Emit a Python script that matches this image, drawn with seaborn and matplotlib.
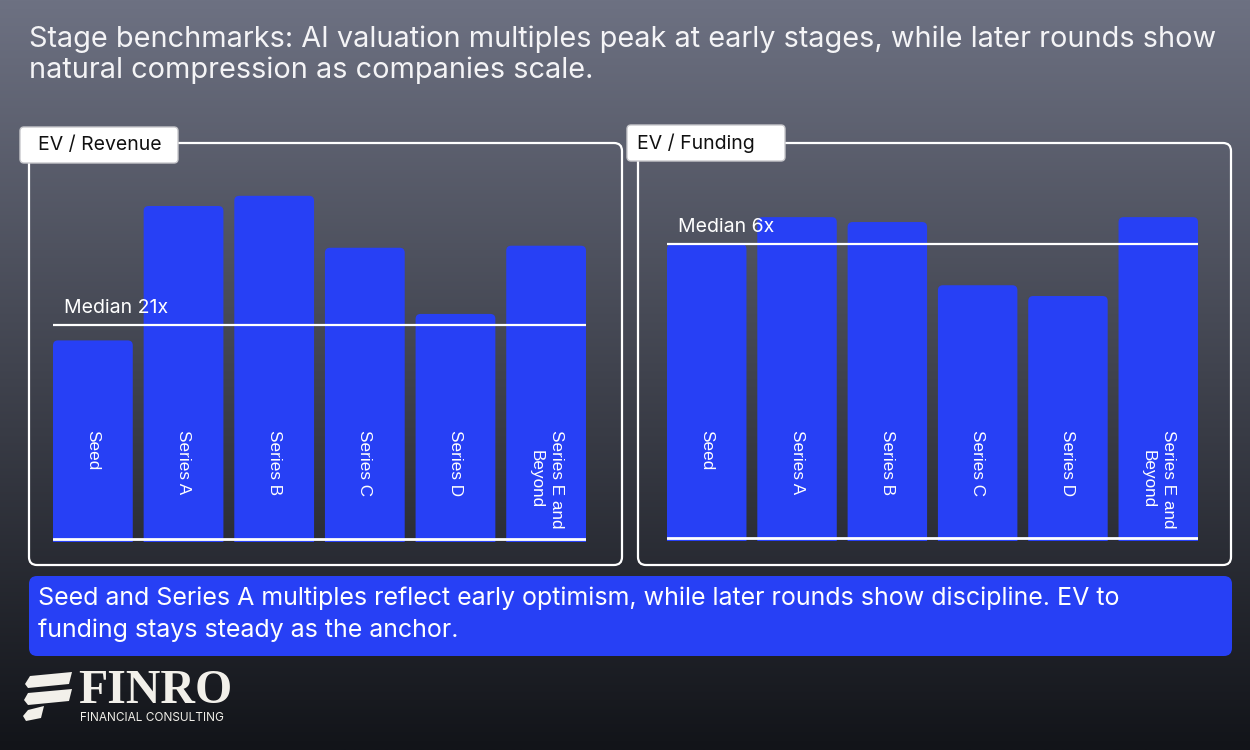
import numpy as np
import pandas as pd
import matplotlib
matplotlib.use("Agg")
import matplotlib.pyplot as plt
import seaborn as sns
from matplotlib.patches import FancyBboxPatch, Polygon
from matplotlib.transforms import blended_transform_factory

# ---------------- data ----------------
stages = ["Seed", "Series A", "Series B", "Series C", "Series D", "Series E and\nBeyond"]
ev_revenue = [19.5, 32.7, 33.7, 28.6, 22.1, 28.8]
ev_funding = [6.0, 6.55, 6.45, 5.16, 4.94, 6.55]
median_revenue = 21
median_funding = 6
panel_titles = ["EV / Revenue", "EV / Funding"]
title_text = ("Stage benchmarks: AI valuation multiples peak at early stages, while later rounds show\n"
              "natural compression as companies scale.")
note_text = ("Seed and Series A multiples reflect early optimism, while later rounds show discipline. EV to\n"
             "funding stays steady as the anchor.")

BLUE = "#2740F5"
W, H = 1250, 750

sns.set_theme(style="white")
plt.rcParams["font.family"] = ["Inter", "DejaVu Sans"]

fig = plt.figure(figsize=(12.5, 7.5), dpi=100)

# ---------------- background axes in pixel coordinates ----------------
bg = fig.add_axes([0, 0, 1, 1], zorder=0)
bg.set_xlim(0, W)
bg.set_ylim(H, 0)
bg.axis("off")
top_c = np.array([0x6d, 0x71, 0x82]) / 255
bot_c = np.array([0x12, 0x14, 0x19]) / 255
t = np.linspace(0, 1, 256)[:, None]
grad = top_c[None, :] * (1 - t) + bot_c[None, :] * t
grad = np.repeat(grad[:, None, :], 2, axis=1)
bg.imshow(grad, extent=[0, W, H, 0], aspect="auto", zorder=0)

bg.text(29, 55, title_text, color="#f4f4f6", fontsize=20.8, va="center", ha="left",
        linespacing=1.18, zorder=3)

# panel frames
for (x0, x1) in [(29, 622), (638, 1231)]:
    bg.add_patch(FancyBboxPatch((x0, 143), x1 - x0, 565 - 143,
                                boxstyle="round,pad=0,rounding_size=8",
                                fc="none", ec="white", lw=1.6, zorder=2))
# panel label tabs
for (x0, y0, tx, lab) in [(20, 127, 38, panel_titles[0]), (627, 125, 637, panel_titles[1])]:
    bg.add_patch(FancyBboxPatch((x0, y0), 158, 36,
                                boxstyle="round,pad=0,rounding_size=4",
                                fc="white", ec="#c8c8cc", lw=1, zorder=4))
    bg.text(tx, y0 + 18, lab, color="#111111", fontsize=14, va="center",
            ha="left", zorder=5)

# note box
bg.add_patch(FancyBboxPatch((29, 576), 1203, 80,
                            boxstyle="round,pad=0,rounding_size=8",
                            fc=BLUE, ec="none", zorder=2))
bg.text(38, 614, note_text, color="white", fontsize=18, va="center", ha="left",
        linespacing=1.44, zorder=3)

# logo
logo_c = "#f2f0ea"
stripes = [
    [(30, 676), (72, 672), (69, 684), (28, 688), (25, 684)],
    [(28, 693), (72, 689), (69, 701), (28, 705), (24, 700)],
    [(28, 710), (44, 706), (41, 718), (26, 721), (23, 716)],
]
for pts in stripes:
    bg.add_patch(Polygon(pts, closed=True, fc=logo_c, ec="none", zorder=3))
bg.text(78, 703, "FINRO", color=logo_c, fontsize=34.5, weight="bold",
        family=["Liberation Serif", "DejaVu Serif"],
        va="baseline", ha="left", zorder=3)
bg.text(80, 718, "FINANCIAL CONSULTING", color=logo_c, fontsize=8.5, va="center",
        ha="left", zorder=3)


# ---------------- bar panels ----------------
def px_axes(x0, x1, ytop, ybot):
    return fig.add_axes([x0 / W, 1 - ybot / H, (x1 - x0) / W, (ybot - ytop) / H], zorder=5)


def draw_panel(ax, values, median, ylim, label):
    df = pd.DataFrame({"stage": stages, "value": values})
    sns.barplot(data=df, x="stage", y="value", ax=ax, color=BLUE, saturation=1,
                width=0.88, order=stages)
    ax.set_xlim(-0.44, 5.44)
    ax.set_ylim(*ylim)
    ax.set_facecolor("none")
    ax.patch.set_alpha(0)
    for s in ax.spines.values():
        s.set_visible(False)
    ax.set_xticks([])
    ax.set_yticks([])
    ax.set_xlabel("")
    ax.set_ylabel("")

    # rounded bar tops
    p0 = ax.transData.transform((0, 0))
    p1 = ax.transData.transform((1, 1))
    sx, sy = p1[0] - p0[0], p1[1] - p0[1]
    r = 5 / sx
    asp = sx / sy
    ybottom = ylim[0] - 6 / sy
    for rect in list(ax.patches):
        x, w = rect.get_x(), rect.get_width()
        h = rect.get_y() + rect.get_height()
        rect.remove()
        ax.add_patch(FancyBboxPatch((x, ybottom), w, h - ybottom,
                                    boxstyle=f"round,pad=0,rounding_size={r}",
                                    mutation_aspect=asp, fc=BLUE, ec="none",
                                    zorder=2, clip_on=True))

    ax.axhline(0, color="white", lw=2, zorder=3)
    ax.axhline(median, color="white", lw=1.6, zorder=3)
    ax.annotate(label, xy=(0.02, median), xycoords=("axes fraction", "data"),
                xytext=(0, 6), textcoords="offset points", color="white",
                fontsize=14, ha="left", va="bottom", zorder=4)

    tr = blended_transform_factory(ax.transData, ax.transAxes)
    for i, s in enumerate(stages):
        ax.text(i, 0.285, s, transform=tr, rotation=-90, color="white",
                fontsize=12.3, family=["Liberation Sans", "DejaVu Sans"],
                ha="center", va="top", linespacing=1.4, zorder=4)


axL = px_axes(53, 586, 150, 542)
draw_panel(axL, ev_revenue, median_revenue, (-0.3, 38.2), f"Median {median_revenue}x")

axR = px_axes(667, 1198, 150, 541)
draw_panel(axR, ev_funding, median_funding, (-0.06, 7.92), f"Median {median_funding}x")

fig.savefig("out.png", dpi=100)
